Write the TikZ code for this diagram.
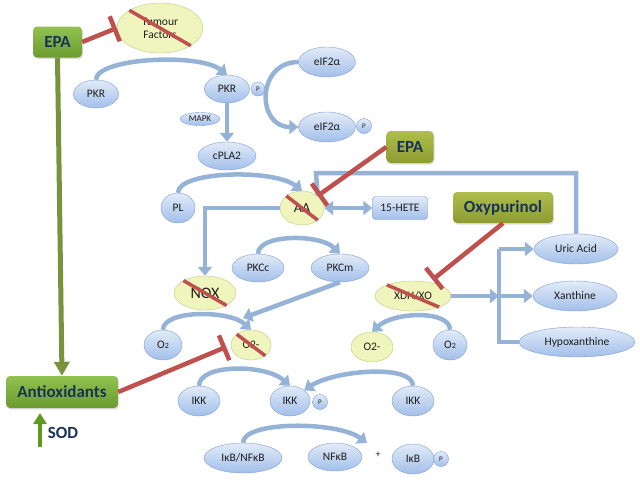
\documentclass[tikz,border=0pt]{standalone}
\usepackage{fontspec}
\setmainfont{Carlito}
\usetikzlibrary{shapes.geometric,arrows.meta,calc,shadows}
\definecolor{protlight}{HTML}{E2EBF8}
\definecolor{protdark}{HTML}{A2BFEA}
\definecolor{protline}{HTML}{7C9ED3}
\definecolor{yelfill}{HTML}{EFF5BC}
\definecolor{yelline}{HTML}{BCCB78}
\definecolor{flowblue}{HTML}{95B3D7}
\definecolor{inhred}{HTML}{C0504D}
\definecolor{leafA}{HTML}{92C250}
\definecolor{leafB}{HTML}{6B9A2E}
\definecolor{oliveA}{HTML}{AEBD4C}
\definecolor{oliveB}{HTML}{8C9C30}
\definecolor{stem}{HTML}{77933C}
\definecolor{sodgreen}{HTML}{5E9A1E}
\definecolor{navy}{HTML}{17325A}
\definecolor{txt}{HTML}{1E1E1E}
\tikzset{
  prot/.style={ellipse, draw=protline, top color=protlight, bottom color=protdark,
    inner sep=0pt, text=txt, font=\fontsize{11.5}{13}\selectfont},
  yel/.style={ellipse, draw=yelline, fill=yelfill, inner sep=0pt, text=txt,
    font=\fontsize{11.5}{13}\selectfont},
  phos/.style={circle, draw=protline, top color=protlight, bottom color=protdark,
    inner sep=0pt, minimum size=14pt, text=txt, font=\fontsize{7}{7}\selectfont},
  drug/.style={rectangle, rounded corners=4pt, inner sep=0pt, text=navy,
    font=\fontsize{17}{18}\bfseries\selectfont,
    drop shadow={opacity=0.25, shadow xshift=1pt, shadow yshift=-1.5pt}},
  leaf/.style={drug, top color=leafA, bottom color=leafB},
  olive/.style={drug, top color=oliveA, bottom color=oliveB},
  flowline/.style={draw=flowblue, line width=4.5pt},
  flow/.style={flowline, -{Triangle[length=9pt,width=14pt]}},
  flowboth/.style={flowline, {Triangle[length=9pt,width=14pt]}-{Triangle[length=9pt,width=14pt]}},
  inhib/.style={draw=inhred, line width=4.5pt, -{Bar[width=27pt]}},
  cross/.style={draw=inhred, line width=3.5pt},
  stemarrow/.style={draw=stem, line width=5pt, -{Triangle[length=14pt,width=15pt]}},
  sodup/.style={draw=sodgreen, line width=4pt, -{Triangle[length=11pt,width=13pt]}},
}
\newcommand{\oxy}{O{\fontsize{8}{8}\selectfont 2}}
\begin{document}
\begin{tikzpicture}[x=1pt,y=1pt]
\useasboundingbox (0,0) rectangle (640,-501);
% drugs
\node[leaf, minimum width=49pt, minimum height=31pt] (epaA) at (57.5,-42) {EPA};
\node[olive, minimum width=47pt, minimum height=32pt] (epaB) at (410,-147) {EPA};
\node[olive, minimum width=100pt, minimum height=31pt] (oxy) at (503,-207.5) {Oxypurinol};
\node[leaf, minimum width=112pt, minimum height=32pt] (antiox) at (62,-392) {Antioxidants};
\node[text=navy, font=\fontsize{17}{18}\bfseries\selectfont] (sod) at (63,-433) {SOD};
% PKR pathway
\node[yel, minimum width=86pt, minimum height=50pt, align=center] (tum) at (160,-28) {Tumour\\Factors};
\node[prot, minimum width=45pt, minimum height=28pt] (pkrA) at (96,-94) {PKR};
\node[prot, minimum width=45pt, minimum height=28pt] (pkrB) at (227,-89) {PKR};
\node[phos] (pA) at (258,-89) {P};
\node[prot, minimum width=40pt, minimum height=13pt, font=\fontsize{9}{10}\selectfont] (mapk) at (200,-119) {MAPK};
\node[prot, minimum width=58pt, minimum height=28pt] (cpla) at (227,-156) {cPLA2};
\node[prot, minimum width=57pt, minimum height=30pt] (eifA) at (327,-62) {eIF2α};
\node[prot, minimum width=57pt, minimum height=30pt] (eifB) at (327,-127) {eIF2α};
\node[phos, minimum size=15pt] (pB) at (364,-126) {P};
% arachidonic acid
\node[prot, minimum width=34pt, minimum height=30pt] (pl) at (178,-208) {PL};
\node[yel, minimum width=44pt, minimum height=34pt, font=\fontsize{14}{15}\selectfont] (aa) at (302,-208) {AA};
\node[rectangle, rounded corners=3pt, draw=protline, top color=protlight, bottom color=protdark,
  text=txt, font=\fontsize{11.5}{13}\selectfont, minimum width=55pt, minimum height=23pt] (hete) at (400,-208) {15-HETE};
\node[yel, minimum width=62pt, minimum height=34pt, font=\fontsize{16}{17}\selectfont] (nox) at (205,-293) {NOX};
\node[prot, minimum width=52pt, minimum height=28pt] (pkcc) at (258,-268) {PKCc};
\node[prot, minimum width=58pt, minimum height=28pt] (pkcm) at (340,-268) {PKCm};
\node[prot, minimum width=38pt, minimum height=30pt] (o2l) at (163,-345) {\oxy};
\node[yel, minimum width=40pt, minimum height=30pt] (o2m) at (251,-345) {O2-};
% xanthine oxidase
\node[yel, minimum width=76pt, minimum height=30pt] (xo) at (413,-296) {XDH/XO};
\node[yel, minimum width=42pt, minimum height=30pt] (sup2) at (372,-347) {O2-};
\node[prot, minimum width=34pt, minimum height=30pt] (o2b) at (450,-345) {\oxy};
\node[prot, minimum width=84pt, minimum height=30pt] (uric) at (576,-249) {Uric Acid};
\node[prot, minimum width=84pt, minimum height=30pt] (xan) at (575,-296) {Xanthine};
\node[prot, minimum width=116pt, minimum height=30pt] (hypo) at (577,-342) {Hypoxanthine};
% NF-kB
\node[prot, minimum width=42pt, minimum height=30pt] (ikkA) at (199,-401) {IKK};
\node[prot, minimum width=40pt, minimum height=30pt] (ikkB) at (290,-401) {IKK};
\node[phos, minimum size=15pt] (pC) at (320,-402) {P};
\node[prot, minimum width=42pt, minimum height=30pt] (ikkC) at (413,-401) {IKK};
\node[prot, minimum width=78pt, minimum height=30pt] (ikb) at (243,-458) {IκB/NFκB};
\node[prot, minimum width=54pt, minimum height=28pt] (nfkb) at (335,-457) {NFκB};
\node[text=txt, font=\fontsize{10}{10}\selectfont] (plus) at (378,-455) {+};
\node[prot, minimum width=42pt, minimum height=30pt] (ikbp) at (413,-459) {IκB};
\node[phos, minimum size=15pt] (pD) at (441,-459) {P};
\coordinate (o2hit) at (243,-318);
\coordinate (fork) at (499,-296);
\coordinate (fb) at (316,-173);
\coordinate (release) at (367,-443);
\coordinate (sodfoot) at (40,-447);
% blue arrows
\draw[flow] (pkrA.north) .. controls +(0,22) and +(-28,22) .. (pkrB.north);
\draw[flow] (pkrB.south) -- (cpla.north);
\draw[flow] (eifA.west) .. controls +(-42,0) and +(-42,0) .. (eifB.west);
\draw[flow] (pl.north) .. controls +(0,22) and +(-28,22) .. (aa.north);
\draw[flowline] (uric.north) |- (fb) -- (aa.north east);
\draw[flowboth] (aa.east) -- (hete.west);
\draw[flow] (aa.west) -| (nox.north);
\draw[flow] (pkcc.north) .. controls +(0,20) and +(-20,20) .. (pkcm.north);
\draw[flow] (pkcm.south) -- (o2hit);
\draw[flow] (o2l.north) .. controls +(0,20) and +(-22,20) .. (o2m.north);
\draw[flow] (o2b.north) .. controls +(0,20) and +(22,20) .. (sup2.north);
\draw[flow] (xo.east) -- (fork);
\draw[flowline] (fork |- uric.west) -- (fork |- hypo.west) -- (hypo.west);
\draw[flow] (fork |- uric.west) -- (uric.west);
\draw[flow] (fork) -- (xan.west);
\draw[flow] (ikkA.north) .. controls +(0,22) and +(-25,22) .. (ikkB.north);
\draw[flow] (ikkC.north) .. controls +(0,22) and +(30,20) .. (ikkB.north east);
\draw[flow] (ikb.north) .. controls +(0,22) and +(-30,22) .. (release);
% green arrows
\draw[stemarrow] (epaA.south) -- (antiox.north);
\draw[sodup] (sodfoot) -- ++(0,34);
% inhibition
\draw[inhib] (epaA.east) -- (tum.west);
\draw[inhib] (epaB.west) -- (aa.north east);
\draw[inhib, shorten >=4pt] (oxy.south) -- (xo.40);
\draw[inhib, shorten >=5pt] (antiox.east) -- (o2m.west);
\draw[cross] (tum.150) -- (tum.-30);
\draw[cross] (aa.north west) -- (aa.south east);
\draw[cross] (nox.150) -- (nox.-30);
\draw[cross] (o2m.north west) -- (o2m.south east);
\draw[cross] (xo.157) -- (xo.-23);
\end{tikzpicture}
\end{document}
